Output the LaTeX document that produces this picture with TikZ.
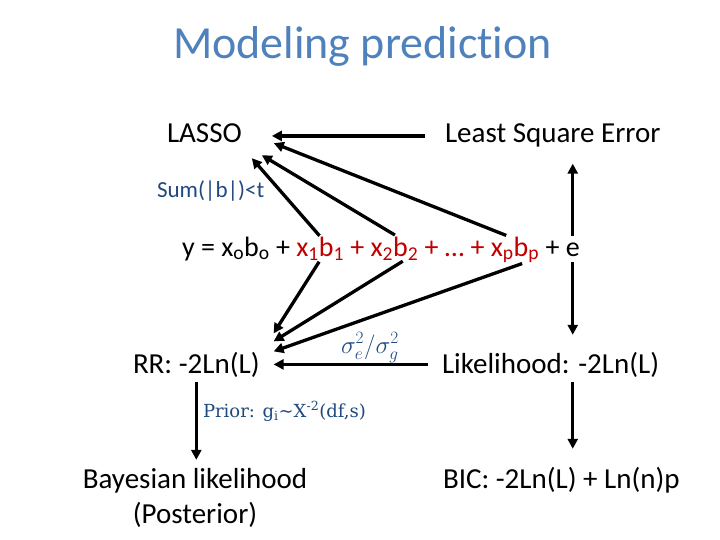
\documentclass[tikz,border=0pt]{standalone}
\usepackage{fontspec}
\setmainfont{Carlito}[Ligatures=NoCommon]
\newfontfamily\serifx{DejaVu Serif}
\usetikzlibrary{arrows.meta}
\definecolor{titleblue}{HTML}{4F81BD}
\definecolor{darkblue}{HTML}{1F497D}
\definecolor{termred}{HTML}{C00000}
\begin{document}
\begin{tikzpicture}[x=1pt,y=-1pt,
  every node/.style={inner sep=0pt, outer sep=0pt},
  txt/.style={font=\fontsize{29}{34}\selectfont, text=black},
  eqt/.style={font=\fontsize{28}{34}\selectfont, text=black},
  red/.style={font=\fontsize{28}{34}\selectfont, text=termred},
  lbl/.style={font=\fontsize{23}{28}\selectfont, text=darkblue},
  arr/.style={line width=3.3pt, -{Triangle[length=10pt,width=10pt]}}
]
\useasboundingbox (0,0) rectangle (720,540);

% title
\node[anchor=base west, font=\fontsize{46}{52}\selectfont, text=titleblue] (title) at (173,59) {Modeling prediction};

% top row
\node[txt, anchor=base west] (lasso) at (167,143) {LASSO};
\node[txt, anchor=base west] (lse) at (445,143) {Least Square Error};
\node[lbl, anchor=base west] (sum) at (157,198) {Sum(|b|)<t};

% equation as a chain of nodes
\node[eqt, anchor=base west] (eqA) at (182,256) {y = x\textsubscript{o}b\textsubscript{o} +};
\node[red, anchor=base west] (t1) at ([xshift=6.3pt]eqA.base east) {x\textsubscript{1}b\textsubscript{1}};
\node[red, anchor=base west] (p1) at ([xshift=6.3pt]t1.base east) {+};
\node[red, anchor=base west] (t2) at ([xshift=6.3pt]p1.base east) {x\textsubscript{2}b\textsubscript{2}};
\node[red, anchor=base west] (p2) at ([xshift=6.3pt]t2.base east) {+ … +};
\node[red, anchor=base west] (tp) at ([xshift=6.3pt]p2.base east) {x\textsubscript{p}b\textsubscript{p}};
\node[eqt, anchor=base west] (p3) at ([xshift=6.3pt]tp.base east) {+};
\node[eqt, anchor=base west] (ee) at ([xshift=6.3pt]p3.base east) {e};

% middle row
\node[txt, anchor=base west] (rr) at (133,373) {RR: -2Ln(L)};
\node[txt, anchor=base west] (lik) at (442,373) {Likelihood: -2Ln(L)};
\node[anchor=base west, font=\fontsize{27}{30}\selectfont, text=darkblue] (sig) at (341,353) {$\sigma_e^2/\sigma_g^2$};
\node[anchor=base west, font=\fontsize{18}{21}\selectfont\serifx, text=darkblue] (prior) at (203,417) {Prior: g\textsubscript{i}\textasciitilde X\textsuperscript{-2}(df,s)};

% bottom row
\node[txt, anchor=base] (bayes) at (195,488) {Bayesian likelihood};
\node[txt, anchor=base] (post) at (195,523) {(Posterior)};
\node[txt, anchor=base west] (bic) at (443,488) {BIC: -2Ln(L) + Ln(n)p};

% connectors
\draw[arr, shorten <=20pt, shorten >=30pt] (lse.west) -- (lse.west -| lasso.east);
\draw[arr, shorten <=1pt] (t1.north) -- ([shift={(10,15)}]lasso.south east);
\draw[arr, shorten <=3pt] ([xshift=3pt]t2.north) -- ([shift={(20,12)}]lasso.south east);
\draw[arr, shorten <=3pt] ([xshift=-6pt]tp.north) -- ([shift={(32,0)}]lasso.south east);

\draw[arr, shorten <=2pt] (t1.south) -- ([shift={(14,-31)}]rr.east);
\draw[arr, shorten <=2pt] ([xshift=10pt]t2.south) -- ([shift={(14,-23)}]rr.east);
\draw[arr, shorten <=2pt] ([xshift=9pt]tp.south) -- ([shift={(14,-13)}]rr.east);
\draw[arr, shorten <=14pt, shorten >=14pt] (lik.west) -- (lik.west -| rr.east);

\draw[arr, shorten <=6pt, shorten >=16pt] (ee.north) -- (ee.north |- lse.south);
\draw[arr, shorten <=6pt, shorten >=17pt] (ee.south) -- (ee.south |- lik.north);

\draw[arr, shorten <=5pt, shorten >=8pt] (rr.south) -- (rr.south |- bayes.north);
\draw[arr, shorten <=5pt, shorten >=18pt] (lik.south -| ee.south) -- (bic.north -| ee.south);
\end{tikzpicture}
\end{document}
